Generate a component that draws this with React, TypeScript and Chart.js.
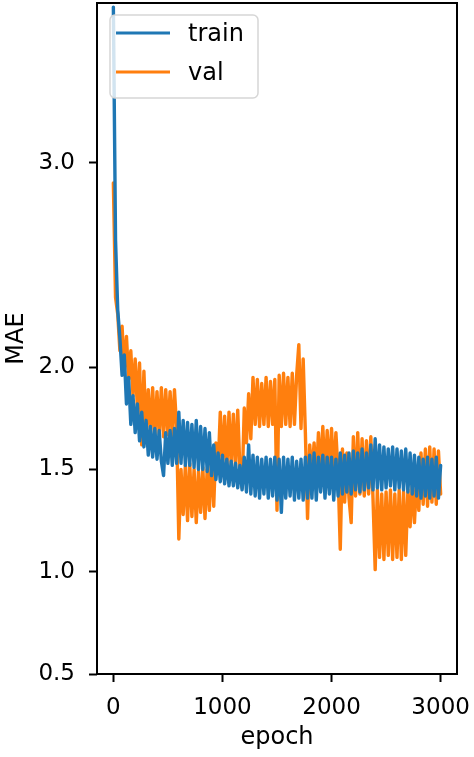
import { useEffect, useRef } from "react";
import { Chart, registerables } from "chart.js";

Chart.register(...registerables);

// one value every 20 epochs
const EPOCH_STEP = 20;

const trainMae = [
    3.76, 2.62, 2.28, 2.14, 1.96, 2.06, 1.82, 1.95, 1.72, 1.86,
    1.68, 1.82, 1.64, 1.78, 1.61, 1.74, 1.57, 1.71, 1.56, 1.70,
    1.55, 1.69, 1.54, 1.47, 1.68, 1.53, 1.69, 1.52, 1.70, 1.53,
    1.78, 1.53, 1.74, 1.52, 1.73, 1.52, 1.72, 1.51, 1.74, 1.50,
    1.71, 1.50, 1.70, 1.49, 1.68, 1.47, 1.62, 1.45, 1.58, 1.44,
    1.57, 1.43, 1.55, 1.42, 1.54, 1.42, 1.53, 1.41, 1.52, 1.40,
    1.56, 1.39, 1.62, 1.38, 1.57, 1.37, 1.56, 1.36, 1.55, 1.38,
    1.56, 1.36, 1.55, 1.37, 1.56, 1.35, 1.55, 1.29, 1.56, 1.36,
    1.55, 1.37, 1.56, 1.35, 1.54, 1.36, 1.55, 1.35, 1.56, 1.36,
    1.57, 1.36, 1.58, 1.35, 1.56, 1.39, 1.57, 1.36, 1.56, 1.38,
    1.56, 1.35, 1.55, 1.37, 1.58, 1.38, 1.57, 1.39, 1.58, 1.38,
    1.59, 1.40, 1.58, 1.39, 1.60, 1.40, 1.58, 1.41, 1.62, 1.40,
    1.65, 1.41, 1.62, 1.40, 1.61, 1.41, 1.60, 1.42, 1.61, 1.40,
    1.60, 1.41, 1.59, 1.40, 1.60, 1.39, 1.58, 1.38, 1.57, 1.37,
    1.56, 1.36, 1.55, 1.37, 1.56, 1.36, 1.55, 1.37, 1.56, 1.36,
    1.52,
];

const valMae = [
    2.90, 2.34, 2.26, 2.08, 2.20, 1.98, 2.15, 1.94, 2.08, 1.86,
    2.04, 1.80, 2.02, 1.62, 1.98, 1.68, 1.89, 1.67, 1.90, 1.66,
    1.88, 1.67, 1.90, 1.66, 1.89, 1.67, 1.88, 1.66, 1.89, 1.70,
    1.16, 1.50, 1.28, 1.52, 1.25, 1.53, 1.27, 1.50, 1.24, 1.49,
    1.29, 1.51, 1.26, 1.50, 1.30, 1.58, 1.32, 1.63, 1.50, 1.78,
    1.52, 1.76, 1.50, 1.78, 1.52, 1.77, 1.51, 1.79, 1.50, 1.41,
    1.80, 1.63, 1.87, 1.65, 1.95, 1.72, 1.94, 1.71, 1.92, 1.72,
    1.95, 1.71, 1.93, 1.72, 1.94, 1.30, 1.96, 1.71, 1.97, 1.72,
    1.95, 1.71, 1.97, 1.72, 1.96, 2.11, 1.70, 2.04, 1.68, 1.26,
    1.62, 1.47, 1.63, 1.45, 1.68, 1.48, 1.71, 1.46, 1.69, 1.47,
    1.70, 1.46, 1.68, 1.48, 1.11, 1.60, 1.34, 1.58, 1.36, 1.24,
    1.66, 1.37, 1.68, 1.38, 1.65, 1.37, 1.64, 1.38, 1.66, 1.36,
    1.01, 1.40, 1.07, 1.38, 1.06, 1.39, 1.08, 1.40, 1.06, 1.38,
    1.07, 1.40, 1.06, 1.39, 1.08, 1.40, 1.22, 1.43, 1.24, 1.45,
    1.30, 1.58, 1.33, 1.60, 1.32, 1.61, 1.34, 1.60, 1.33, 1.59,
    1.38,
];

const seriesNames = ["train", "val"];
const seriesColors = ["#1f77b4", "#ff7f0e"];
const xTicks = [0, 1000, 2000, 3000];
const yTicks = [0.5, 1.0, 1.5, 2.0, 3.0];

const FONT = "DejaVu Sans";

const epochs = trainMae.map((_, i) => i * EPOCH_STEP);

// spines on all four sides + matplotlib-like legend box drawn over the lines
const frameLegend = {
    id: "frameLegend",
    afterDraw(chart: any) {
        const {ctx, chartArea: a} = chart;
        ctx.save();
        ctx.strokeStyle = "#000";
        ctx.lineWidth = 2;
        ctx.strokeRect(a.left, a.top, a.right - a.left, a.bottom - a.top);

        const bx = a.left + 13, by = a.top + 12, bw = 148, bh = 83;
        ctx.beginPath();
        ctx.roundRect(bx, by, bw, bh, 5);
        ctx.fillStyle = "rgba(255,255,255,0.8)";
        ctx.fill();
        ctx.strokeStyle = "#d6d6d6";
        ctx.lineWidth = 1.5;
        ctx.stroke();

        chart.data.datasets.forEach((ds: any, i: number) => {
            const y = by + 18 + i * 39;
            ctx.strokeStyle = ds.borderColor;
            ctx.lineWidth = 3;
            ctx.beginPath();
            ctx.moveTo(bx + 6, y);
            ctx.lineTo(bx + 60, y);
            ctx.stroke();
            ctx.fillStyle = "#000";
            ctx.font = `24px '${FONT}'`;
            ctx.textBaseline = "middle";
            ctx.textAlign = "left";
            ctx.fillText(ds.label, bx + 78, y + 2);
        });
        ctx.restore();
    },
};

const App = () => {
    const canvasRef = useRef<HTMLCanvasElement>(null);

    useEffect(() => {
        if (!canvasRef.current) return;
        const ctx = canvasRef.current.getContext("2d");
        if (!ctx) return;

        const series = [trainMae, valMae];

        const chart = new Chart(ctx, {
            type: "line",
            data: {
                datasets: series.map((vals, i) => ({
                    label: seriesNames[i],
                    data: vals.map((v, j) => ({x: epochs[j], y: v})),
                    borderColor: seriesColors[i],
                    backgroundColor: seriesColors[i],
                    borderWidth: 3.4,
                    borderJoinStyle: "round" as const,
                    borderCapStyle: "round" as const,
                    pointRadius: 0,
                    tension: 0,
                    fill: false,
                })),
            },
            options: {
                animation: false,
                responsive: true,
                maintainAspectRatio: false,
                layout: {padding: {top: 3, right: 17, left: 0, bottom: 0}},
                plugins: {
                    legend: {display: false},
                    tooltip: {enabled: false},
                },
                scales: {
                    x: {
                        type: "linear",
                        min: -150,
                        max: 3150,
                        afterBuildTicks: (s: any) => {
                            s.ticks = xTicks.map((v) => ({value: v}));
                        },
                        afterFit: (s: any) => {
                            s.height = 83;
                            s.paddingLeft = 0;
                            s.paddingRight = 0;
                        },
                        grid: {
                            drawOnChartArea: false,
                            drawTicks: true,
                            tickLength: 8,
                            tickColor: "#000",
                            tickWidth: 2,
                        },
                        border: {display: false},
                        ticks: {
                            color: "#000",
                            font: {family: FONT, size: 23},
                            padding: 12,
                            maxRotation: 0,
                            autoSkip: false,
                            callback: (v: any) => String(v),
                        },
                        title: {
                            display: true,
                            text: "epoch",
                            color: "#000",
                            font: {family: FONT, size: 24},
                            padding: {top: 0, bottom: 5},
                        },
                    },
                    y: {
                        type: "linear",
                        min: 0.5,
                        max: 3.78,
                        afterBuildTicks: (s: any) => {
                            s.ticks = yTicks.map((v) => ({value: v}));
                        },
                        afterFit: (s: any) => {
                            s.width = 97;
                            s.paddingTop = 0;
                            s.paddingBottom = 0;
                        },
                        grid: {
                            drawOnChartArea: false,
                            drawTicks: true,
                            tickLength: 8,
                            tickColor: "#000",
                            tickWidth: 2,
                        },
                        border: {display: false},
                        ticks: {
                            color: "#000",
                            font: {family: FONT, size: 23},
                            padding: 14,
                            autoSkip: false,
                            callback: (v: any) => Number(v).toFixed(1),
                        },
                        title: {
                            display: true,
                            text: "MAE",
                            color: "#000",
                            font: {family: FONT, size: 24},
                            padding: {top: 2, bottom: 0},
                        },
                    },
                },
            },
            plugins: [frameLegend],
        });

        return () => {
            chart.destroy();
        };
    }, []);

    return (
        <div style={{position: "absolute", left: 0, top: 0, width: 474, height: 757, background: "#fff"}}>
            <canvas ref={canvasRef}></canvas>
        </div>
    );
};

export default App;
